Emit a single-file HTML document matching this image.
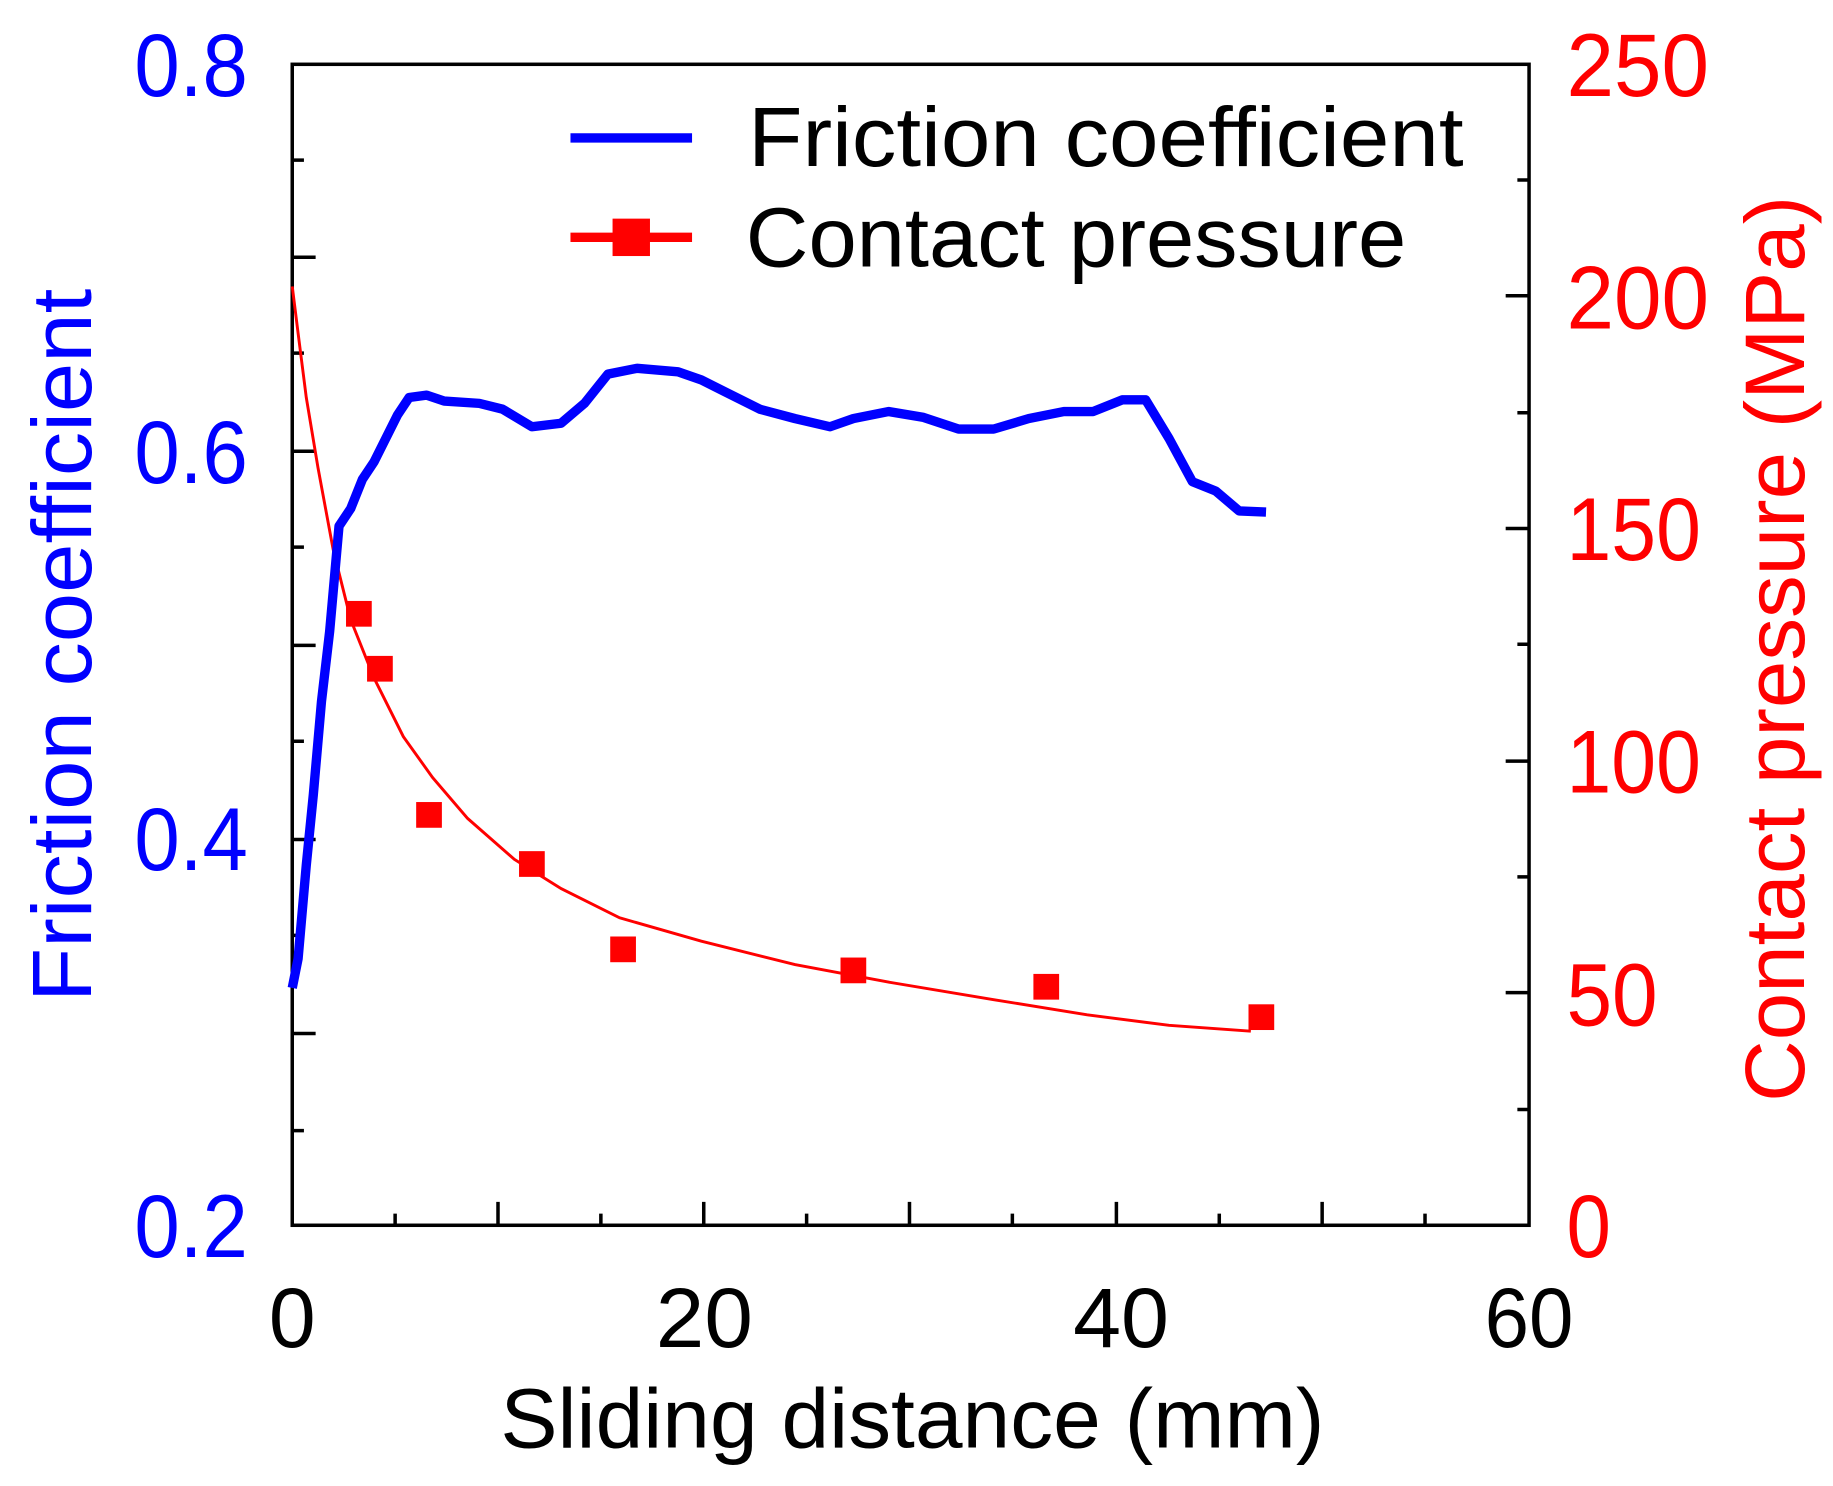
<!DOCTYPE html>
<html><head><style>html,body{margin:0;padding:0;background:#fff}svg{display:block}</style></head>
<body>
<svg width="1833" height="1486" viewBox="0 0 1568 1271" preserveAspectRatio="none" xmlns="http://www.w3.org/2000/svg" font-family="Liberation Sans, sans-serif">
<rect width="1568" height="1271" fill="#fff"/>
<g stroke="#000" stroke-width="3">
<path d="M250,137h10M250,220h20M250,302h10M250,386h20M250,468h10M250,552h20M250,634h10M250,718h20M250,800h10M250,884h20M250,967h10"/>
<path d="M1308,154h-10M1308,253h-20M1308,353h-10M1308,452h-20M1308,551h-10M1308,651h-20M1308,750h-10M1308,849h-20M1308,949h-10"/>
<path d="M338,1048v-10M426,1048v-20M514,1048v-10M602,1048v-20M690,1048v-10M778,1048v-20M866,1048v-10M955,1048v-20M1043,1048v-10M1131,1048v-20M1219,1048v-10"/>
</g>
<rect x="250" y="55" width="1058" height="993" fill="none" stroke="#000" stroke-width="3"/>
<polyline fill="none" stroke="#f00" stroke-width="2.5" points="250,245 255,285 262,340 272,400 285,470 300,530 320,580 345,630 370,665 400,700 440,735 480,760 530,785 600,805 680,825 760,840 850,855 930,868 1000,877 1070,882"/>
<polyline fill="none" stroke="#00f" stroke-width="8" stroke-linejoin="round" points="250,845 255,820 262,740 268,680 275,600 282,540 290,450 300,435 310,410 320,395 330,375 340,355 350,340 365,338 380,343 410,345 430,350 455,365 480,362 500,345 520,320 545,315 580,318 600,325 620,335 650,350 680,358 710,365 730,358 760,352 790,357 820,367 850,367 880,358 910,352 935,352 960,342 980,342 1000,375 1020,412 1040,420 1060,437 1083,438"/>
<g fill="#f00">
<rect x="296" y="514" width="22" height="22"/><rect x="314" y="561" width="22" height="22"/><rect x="356" y="686" width="22" height="22"/><rect x="444" y="728" width="22" height="22"/><rect x="522" y="801" width="22" height="22"/><rect x="719" y="819" width="22" height="22"/><rect x="884" y="833" width="22" height="22"/><rect x="1068" y="859" width="22" height="22"/>
</g>
<line x1="488" y1="118" x2="592" y2="118" stroke="#00f" stroke-width="8"/>
<line x1="488" y1="203" x2="592" y2="203" stroke="#f00" stroke-width="8"/>
<rect x="524" y="187" width="32" height="32" fill="#f00"/>
<g lengthAdjust="spacingAndGlyphs">
<text x="640" y="142" font-size="72" textLength="612" lengthAdjust="spacingAndGlyphs" fill="#000">Friction coefficient</text>
<text x="638" y="228" font-size="72" textLength="565" lengthAdjust="spacingAndGlyphs" fill="#000">Contact pressure</text>
</g>
<g fill="#00f" font-size="76">
<text x="115" y="82" textLength="97" lengthAdjust="spacingAndGlyphs">0.8</text>
<text x="115" y="413" textLength="97" lengthAdjust="spacingAndGlyphs">0.6</text>
<text x="115" y="744" textLength="97" lengthAdjust="spacingAndGlyphs">0.4</text>
<text x="115" y="1075" textLength="97" lengthAdjust="spacingAndGlyphs">0.2</text>
</g>
<g fill="#f00" font-size="76">
<text x="1340" y="82" textLength="122" lengthAdjust="spacingAndGlyphs">250</text>
<text x="1340" y="281" textLength="122" lengthAdjust="spacingAndGlyphs">200</text>
<text x="1340" y="479" textLength="115" lengthAdjust="spacingAndGlyphs">150</text>
<text x="1340" y="678" textLength="115" lengthAdjust="spacingAndGlyphs">100</text>
<text x="1340" y="877" textLength="78" lengthAdjust="spacingAndGlyphs">50</text>
<text x="1340" y="1075" textLength="38" lengthAdjust="spacingAndGlyphs">0</text>
</g>
<g fill="#000" font-size="72">
<text x="230" y="1152" textLength="40" lengthAdjust="spacingAndGlyphs">0</text>
<text x="561" y="1152" textLength="83" lengthAdjust="spacingAndGlyphs">20</text>
<text x="918" y="1152" textLength="82" lengthAdjust="spacingAndGlyphs">40</text>
<text x="1270" y="1152" textLength="76" lengthAdjust="spacingAndGlyphs">60</text>
<text x="428" y="1238" textLength="705" lengthAdjust="spacingAndGlyphs">Sliding distance (mm)</text>
</g>
<text transform="translate(78,552) rotate(-90)" fill="#00f" font-size="72" text-anchor="middle" textLength="610" lengthAdjust="spacingAndGlyphs">Friction coefficient</text>
<text transform="translate(1543,555) rotate(-90)" fill="#f00" font-size="72" text-anchor="middle" textLength="775" lengthAdjust="spacingAndGlyphs">Contact pressure (MPa)</text>
</svg>
</body></html>
